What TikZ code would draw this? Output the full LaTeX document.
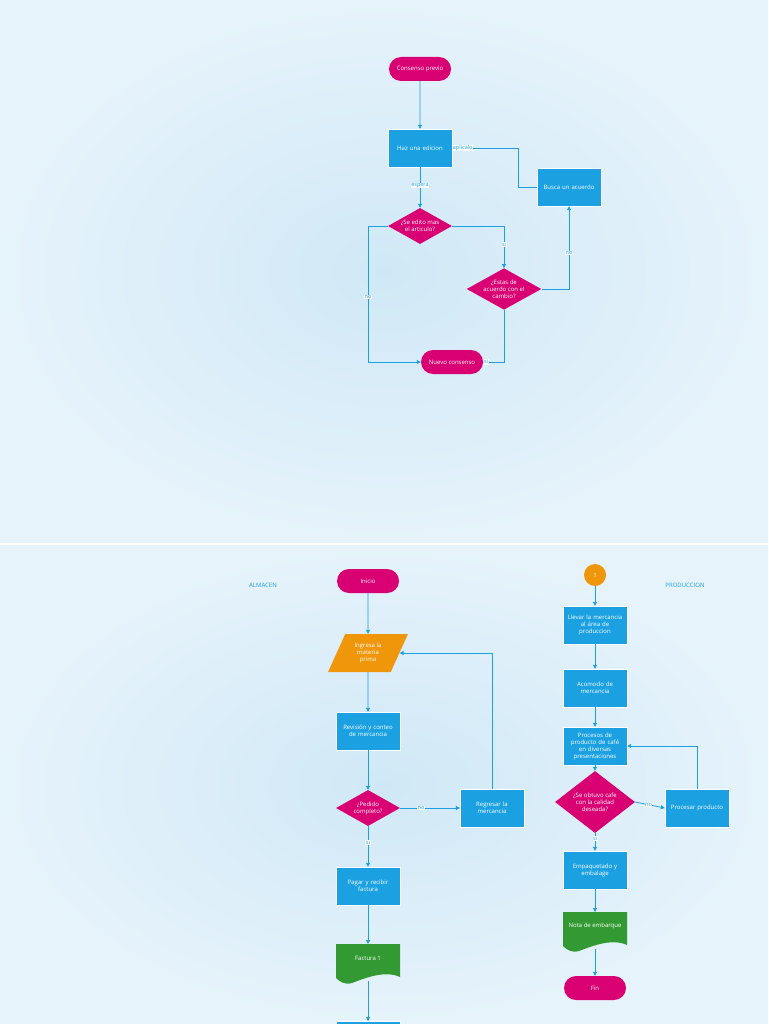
\documentclass[tikz,border=0pt]{standalone}
\usepackage{fontspec}
\setmainfont{Open Sans}
\usetikzlibrary{shapes.geometric,shapes.misc,arrows.meta,positioning}
\definecolor{mag}{HTML}{D80073}
\definecolor{blu}{HTML}{1BA1E2}
\definecolor{ora}{HTML}{F0960A}
\definecolor{grn}{HTML}{339933}
\definecolor{bgo}{HTML}{E6F3FB}
\definecolor{bgi}{HTML}{D0E8F6}
\begin{document}
\begin{tikzpicture}[x=1pt,y=-1pt,
 every node/.style={font=\fontsize{6}{7}\selectfont,text=white,align=center},
 term/.style={draw=none,fill=mag,rounded rectangle,minimum width=64pt,minimum height=24pt,inner sep=1pt},
 box/.style={draw=white,line width=0.4pt,fill=blu,minimum width=64pt,minimum height=38pt,text width=60pt,inner sep=1pt},
 dia/.style={draw=none,fill=mag,diamond,aspect=1.8,inner sep=0pt,minimum width=64pt,minimum height=36pt},
 ar/.style={draw=blu,line width=0.8pt,-{Triangle[length=4pt,width=4pt]}},
 lbl/.style={fill=white,text=blu,inner sep=0.5pt,font=\fontsize{5.5}{6}\selectfont}]
\useasboundingbox (0,0) rectangle (768,1024);
\shade[inner color=bgi,outer color=bgo] (0,0) rectangle (768,543);
\shade[inner color=bgi,outer color=bgo] (0,545) rectangle (768,1024);
\draw[white,line width=1.2pt] (0,544) -- (768,544);
% top
\node[term] (cp) at (420,69) {Consenso previo};
\node[box] (haz) at (420,148) {Haz una edicion};
\node[box] (bus) at (569,187) {Busca un acuerdo};
\node[dia] (d1) at (420,226) {¿Se edito mas\\el articulo?};
\node[dia,minimum width=62pt,minimum height=40pt] (d2) at (504,289) {¿Estas de\\acuerdo con el\\cambio?};
\node[term] (nc) at (452,362) {Nuevo consenso};
\draw[ar] (cp) -- (haz);
\draw[ar] (haz) -- node[lbl,pos=0.45]{espera} (d1);
\draw[ar] (d1.east) -| node[lbl,pos=0.72]{si} (d2.north);
\draw[ar] (d2.east) -| node[lbl,pos=0.72]{no} (bus.south);
\coordinate (b1) at (518,187);
\draw[ar] (bus.west) -- (b1) |- node[lbl,pos=0.92]{aplicalo} (haz.east);
\draw[ar] (d1.west) -| node[lbl,pos=0.76]{no} (368,362) -- (nc.west);
\draw[ar] (d2.south) |- node[lbl,pos=0.93]{si} (nc.east);
% bottom left
\node[text=blu] (alm) at (263,585) {ALMACEN};
\node[text=blu] (pro) at (685,585) {PRODUCCION};
\node[term] (ini) at (368,581) {Inicio};
\node[draw=none,fill=ora,trapezium,trapezium left angle=63,trapezium right angle=117,minimum width=80pt,minimum height=38pt,inner sep=0pt,trapezium stretches=true] (ing) at (368,653) {Ingresa la\\materia\\prima};
\node[box] (rev) at (368,731) {Revisión y conteo\\de mercancia};
\node[dia] (ped) at (368,808) {¿Pedido\\completo?};
\node[box] (reg) at (492,808) {Regresar la\\mercancia};
\node[box] (pag) at (368,886) {Pagar y recibir\\factura};
\fill[grn] (336,944) -- (400,944) -- (400,977) .. controls (385,970) and (365,978) .. (352,983) .. controls (345,985) and (340,982) .. (336,978) -- cycle;
\node (fac) at (368,958) {Factura 1};
\coordinate (facb) at (368,981);
\node[box,anchor=north] (nxt) at (368,1021) {};
\draw[ar] (ini) -- (ing);
\draw[ar] (ing) -- (rev);
\draw[ar] (rev) -- (ped);
\draw[ar] (ped) -- node[lbl,pos=0.35]{no} (reg);
\draw[ar] (reg.north) |- (ing.east);
\draw[ar] (ped) -- node[lbl,pos=0.4]{si} (pag);
\draw[ar] (pag) -- (fac.north |- 0,944);
\draw[ar] (facb) -- (nxt.north);
% bottom right
\node[circle,fill=ora,minimum size=22pt,inner sep=0pt] (c1) at (595,575) {1};
\node[box] (lle) at (595,625) {Llevar la mercancia\\al área de\\produccion};
\node[box] (aco) at (595,688) {Acomodo de\\mercancia};
\node[box] (prc) at (595,746) {Procesos de\\producto de café\\en diversas\\presentaciones};
\node[dia,minimum width=80pt,minimum height=62pt,aspect=1.3] (sec) at (595,802) {¿Se obtuvo cafe\\con la calidad\\deseada?};
\node[box] (pp) at (697,808) {Procesar producto};
\node[box] (emp) at (595,870) {Empaquetado y\\embalage};
\fill[grn] (563,912) -- (627,912) -- (627,945) .. controls (612,938) and (592,946) .. (579,951) .. controls (572,953) and (567,950) .. (563,946) -- cycle;
\node (nota) at (595,926) {Nota de embarque};
\coordinate (notb) at (595,949);
\node[term] (fin) at (595,988) {Fin};
\draw[ar] (c1) -- (lle);
\draw[ar] (lle) -- (aco);
\draw[ar] (aco) -- (prc);
\draw[ar] (prc) -- (sec);
\draw[ar] (sec.east) -- node[lbl,pos=0.45]{no} (pp.west);
\draw[ar] (pp.north) |- (prc.east);
\draw[ar] (sec) -- node[lbl,pos=0.3]{si} (emp);
\draw[ar] (emp) -- (nota.north |- 0,912);
\draw[ar] (notb) -- (fin);
\end{tikzpicture}
\end{document}
